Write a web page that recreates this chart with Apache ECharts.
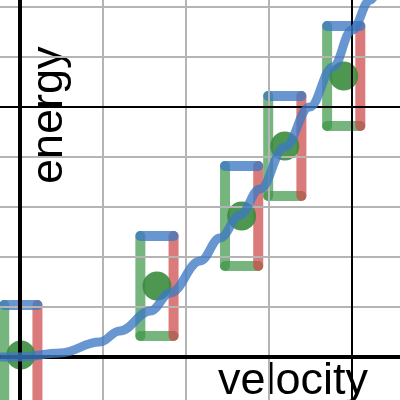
<!DOCTYPE html>
<html><head><meta charset="utf-8">
<script src="https://cdn.jsdelivr.net/npm/echarts@6/dist/echarts.min.js"></script>
<style>html,body{margin:0;padding:0;background:#fff}#c{width:400px;height:400px}</style>
</head><body><div id="c"></div>
<script>
var pointX = [0.01, 1.65, 2.67, 3.19, 3.90];
var pointY = [0.04, 1.42, 2.82, 4.22, 5.62];
var errX = [0.2, 0.2, 0.2, 0.2, 0.2];
var errY = [1.0, 1.0, 1.0, 1.0, 1.0];
var curveX = [-0.24, 0, 0.48, 0.96, 1.2, 1.57, 1.81, 2.17, 2.41, 2.65, 2.89, 3.19, 3.49, 3.77, 4.0, 4.22, 4.34];
var curveY = [0, 0, 0.08, 0.3, 0.52, 0.92, 1.28, 1.92, 2.38, 2.84, 3.36, 4.2, 5.0, 5.8, 6.54, 7.14, 7.5];
var grayX = [1, 2, 3], grayY = [1, 2, 3, 4, 6, 7];
var xLabel = 'velocity', yLabel = 'energy';

var chart = echarts.init(document.getElementById('c'));
var ml = [];
grayX.forEach(function(v){ml.push({xAxis:v, lineStyle:{color:'#b4b4b4',width:2,type:'solid'}});});
grayY.forEach(function(v){ml.push({yAxis:v, lineStyle:{color:'#b4b4b4',width:2,type:'solid'}});});
ml.push({xAxis:4, lineStyle:{color:'#000',width:2,type:'solid'}});
ml.push({yAxis:5, lineStyle:{color:'#000',width:2,type:'solid'}});
ml.push({xAxis:0, lineStyle:{color:'#000',width:4,type:'solid'}});
ml.push({yAxis:0, lineStyle:{color:'#000',width:4,type:'solid'}});
var boxes = pointX.map(function(x,i){return [x, pointY[i], errX[i], errY[i]];});
var blue='rgba(60,120,195,0.78)', green='rgba(60,150,70,0.7)', red='rgba(205,70,70,0.72)';
chart.setOption({
  animation:false,
  grid:{left:0,right:0,top:0,bottom:0},
  xAxis:{type:'value',min:-0.241,max:4.578,show:false,splitLine:{show:false}},
  yAxis:{type:'value',min:-0.86,max:7.14,show:false,splitLine:{show:false}},
  series:[
    {type:'line',data:[],silent:true,markLine:{silent:true,symbol:'none',label:{show:false},data:ml}},
    {type:'custom',data:boxes,z:3,renderItem:function(p,api){
      var x=api.value(0),y=api.value(1),dx=api.value(2),dy=api.value(3);
      var tl=api.coord([x-dx,y+dy]),tr=api.coord([x+dx,y+dy]),bl=api.coord([x-dx,y-dy]),br=api.coord([x+dx,y-dy]);
      function seg(a,b,c){return {type:'line',shape:{x1:a[0],y1:a[1],x2:b[0],y2:b[1]},style:{stroke:c,lineWidth:10,lineCap:'round'}};}
      return {type:'group',children:[seg(tl,bl,green),seg(bl,br,green),seg(tr,br,red),seg(tl,tr,blue)]};
    }},
    {type:'scatter',z:4,data:pointX.map(function(x,i){return [x,pointY[i]];}),symbolSize:29,itemStyle:{color:'rgb(58,140,62)',opacity:0.9}},
    {type:'line',z:5,smooth:0.4,smoothMonotone:'x',symbol:'none',data:curveX.map(function(x,i){return [x,curveY[i]];}),lineStyle:{color:blue,width:9}}
  ],
  graphic:[
    {type:'text',rotation:Math.PI/2,x:27,y:184,style:{text:yLabel,font:'45px "Liberation Sans"',fill:'#000'}},
    {type:'text',x:218,y:359,style:{text:xLabel,font:'45px "Liberation Sans"',fill:'#000'}}
  ]
});
</script></body></html>
